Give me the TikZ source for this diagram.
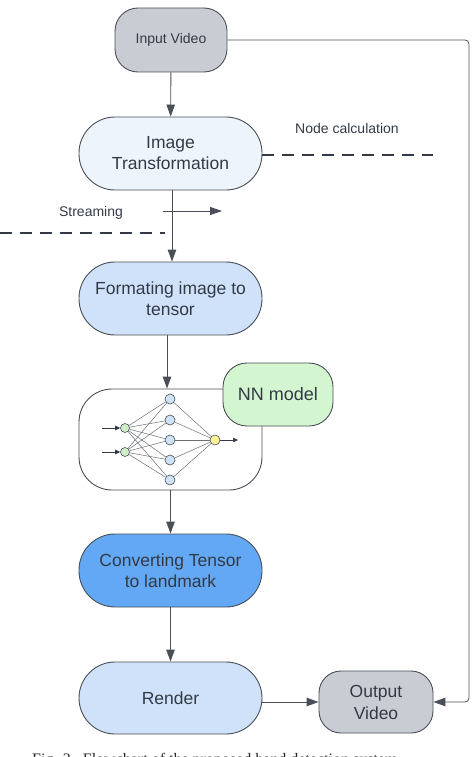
\documentclass[tikz,border=0pt]{standalone}
\usepackage{fontspec}
\setmainfont{Liberation Sans}
\newfontfamily\capfont{Liberation Serif}
\usetikzlibrary{arrows.meta,calc}
\definecolor{txt}{HTML}{333A45}
\definecolor{edge}{HTML}{4A4F57}
\definecolor{grayfill}{HTML}{C9CDD3}
\definecolor{palefill}{HTML}{EEF4FC}
\definecolor{lightfill}{HTML}{CFE2FA}
\definecolor{midfill}{HTML}{62A8F5}
\definecolor{greenfill}{HTML}{D3F5CF}
\definecolor{hidfill}{HTML}{CFE3F7}
\definecolor{infill}{HTML}{CDEFC6}
\definecolor{outfill}{HTML}{FFF39A}
\definecolor{nnedge}{HTML}{6B6F75}
\begin{document}
\begin{tikzpicture}[x=1pt,y=-1pt,
  box/.style={draw=edge, line width=0.9pt, inner sep=0pt, align=center, text=txt,
    font=\fontsize{17.5}{21}\selectfont, minimum width=183pt, minimum height=73pt, rounded corners=36pt},
  smallbox/.style={draw=edge, line width=0.9pt, inner sep=0pt, align=center, text=txt,
    fill=grayfill, rounded corners=23pt},
  arr/.style={draw=edge, line width=0.9pt, -{Triangle[length=12pt,width=8.5pt]}},
  dashln/.style={draw=txt, line width=2.4pt, dash pattern=on 12pt off 8pt},
  lbl/.style={text=txt, inner sep=0pt, font=\fontsize{14}{16}\selectfont},
  neuron/.style={circle, draw=edge, line width=0.6pt, minimum size=10pt, inner sep=0pt},
  nnline/.style={draw=nnedge, line width=0.5pt},
  tinyarr/.style={draw=txt, line width=0.6pt, -{Triangle[length=5pt,width=4.5pt]}}
]
\path[use as bounding box, clip] (0,0) rectangle (474,757);

% main nodes
\node[smallbox, minimum width=112pt, minimum height=64pt, font=\fontsize{14}{16}\selectfont] (inV) at (171,40) {Input Video};
\node[box, fill=palefill] (imgT) at (170.5,153.5) {Image\\Transformation};
\node[box, fill=lightfill] (form) at (170.5,298.5) {Formating image to\\tensor};
\node[draw=edge, line width=0.9pt, fill=white, rounded corners=33pt, minimum width=183pt, minimum height=101pt, inner sep=0pt] (nn) at (170.5,439.5) {};
\node[draw=edge, line width=0.9pt, fill=greenfill, rounded corners=24pt, minimum width=110pt, minimum height=63pt, inner sep=0pt, text=txt, font=\fontsize{18}{21}\selectfont] (nnm) at (278,394.5) {NN model};
\node[box, fill=midfill] (conv) at (170.5,570.5) {Converting Tensor\\to landmark};
\node[box, fill=lightfill, minimum height=72pt] (rend) at (170.5,698) {Render};
\node[smallbox, minimum width=114pt, minimum height=62pt, font=\fontsize{17.5}{22}\selectfont, rounded corners=22pt] (outV) at (376,702) {Output\\Video};

% labels
\node[lbl] (nc) at (347,128) {Node calculation};
\node[lbl] (st) at (91,213) {Streaming};

% neural network
\node[neuron, fill=infill, minimum size=9pt] (i1) at (125,428) {};
\node[neuron, fill=infill, minimum size=9pt] (i2) at (125,452) {};
\foreach \k/\yy in {1/399,2/420,3/440,4/460,5/480}{
  \node[neuron, fill=hidfill] (h\k) at (170,\yy) {};
}
\node[neuron, fill=outfill] (o) at (215,440) {};
\foreach \k in {1,...,5}{
  \draw[nnline] (i1) -- (h\k);
  \draw[nnline] (i2) -- (h\k);
  \draw[nnline] (h\k) -- (o);
}
\coordinate (ia1) at (102,428);
\coordinate (ia2) at (102,452);
\coordinate (oa) at (238,440);
\draw[tinyarr] (ia1) -- (i1);
\draw[tinyarr] (ia2) -- (i2);
\draw[tinyarr] (o) -- (oa);

% connectors
\draw[arr] (inV) -- (imgT);
\draw[arr] ([xshift=1.5pt]imgT.south) -- ([xshift=1.5pt]form.north);
\draw[arr] ([xshift=-3.5pt]form.south) -- ([xshift=-3.5pt]nn.north);
\draw[arr] (nn.south) -- (conv.north);
\draw[arr] (conv) -- (rend);
\draw[arr] (rend.east |- outV.west) -- (outV.west);
\coordinate (rc1) at (469,40);
\coordinate (rc2) at (469,702);
\draw[arr, line width=0.8pt, rounded corners=4pt] (inV.east) -- (rc1) -- (rc2) -- (outV.east);

% streaming arrow
\coordinate (sa1) at (163,211);
\coordinate (sa2) at (222,211);
\draw[draw=edge, line width=0.8pt, -{Triangle[length=12pt,width=8pt]}] (sa1) -- (sa2);

% dashed lines
\coordinate (ncEnd) at (433,155);
\draw[dashln] (imgT.east |- ncEnd) -- (ncEnd);
\coordinate (stL) at (0,233);
\coordinate (stR) at (165,233);
\draw[dashln] (stL) -- (stR);

% caption (cut off by the page edge, as in the reference)
\node[anchor=base west, inner sep=0pt, text=black!85, font=\capfont\fontsize{16}{18}\selectfont] (cap) at (32,764.5) {Fig. 2.\ \ Flowchart of the proposed hand detection system};
\end{tikzpicture}
\end{document}
